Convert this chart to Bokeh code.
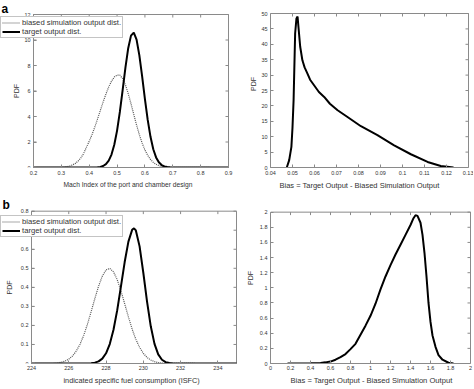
from bokeh.plotting import figure
from bokeh.layouts import column, row
from bokeh.models import FixedTicker, Range1d, Legend, LegendItem, Title
from bokeh.core.properties import value
from bokeh.embed import file_html
from bokeh.resources import INLINE

FONT = "Liberation Sans"
TXT = "#333333"
AX = "#8a8a8a"

# ---------------- data ----------------
# panel a (left): Mach index distributions
a_x = [0.20, 0.30, 0.31, 0.32, 0.33, 0.34, 0.35, 0.36, 0.37, 0.38, 0.39,
       0.40, 0.41, 0.42, 0.43, 0.44, 0.45, 0.46, 0.47, 0.48, 0.49,
       0.50, 0.51, 0.52, 0.53, 0.54, 0.55, 0.56, 0.57, 0.58, 0.59,
       0.60, 0.61, 0.62, 0.63, 0.64, 0.65, 0.66, 0.67, 0.68, 0.69, 0.70, 0.90]
a_biased = [0, 0.02, 0.04, 0.07, 0.12, 0.20, 0.32, 0.50, 0.75, 1.10, 1.59,
            2.05, 2.58, 3.17, 3.81, 4.48, 5.14, 5.76, 6.32, 6.77, 7.09,
            7.25, 7.24, 6.97, 6.48, 5.80, 5.00, 4.16, 3.33, 2.57, 1.91,
            1.37, 0.95, 0.63, 0.40, 0.25, 0.15, 0.086, 0.047, 0.025, 0.013, 0.006, 0]
a_target = [0, 0, 0, 0, 0, 0, 0, 0, 0, 0, 0,
            0, 0, 0.005, 0.017, 0.049, 0.118, 0.261, 0.534, 1.014, 1.781,
            2.895, 4.358, 6.073, 7.833, 9.355, 10.341, 10.584, 10.027, 8.795, 7.140,
            5.367, 3.734, 2.405, 1.435, 0.792, 0.405, 0.191, 0.084, 0.034, 0.013, 0.004, 0]

# panel a (right): bias distribution
ab_x = [0.0474, 0.0485, 0.0495, 0.0500, 0.0505, 0.0512, 0.0518, 0.0523, 0.0527,
        0.0535, 0.0545, 0.0555, 0.0568, 0.0580, 0.0598, 0.0620, 0.0644, 0.0670,
        0.0705, 0.0750, 0.0811, 0.0886, 0.0962, 0.1038, 0.1114, 0.1174, 0.1232]
ab_y = [0, 2.4, 6.7, 13.0, 21.9, 43.5, 48.4, 49.0, 45.7,
        39.2, 34.8, 32.5, 30.5, 28.5, 26.7, 24.5, 22.9, 20.7,
        18.6, 16.4, 13.4, 10.5, 7.2, 4.3, 1.8, 0.5, 0]

# panel b (left): ISFC distributions
b_x = [224, 225.0, 225.2, 225.4, 225.6, 225.8, 226.0, 226.2, 226.4, 226.6, 226.8,
       227.0, 227.2, 227.4, 227.6, 227.8, 228.0, 228.2, 228.4, 228.6, 228.8,
       229.0, 229.2, 229.4, 229.5, 229.6, 229.8, 230.0, 230.2, 230.4, 230.6, 230.8,
       231.0, 231.2, 231.4, 231.6, 235]
b_biased = [0, 0.0007, 0.0015, 0.0033, 0.0066, 0.0126, 0.0229, 0.0395, 0.0646, 0.1002, 0.1474,
            0.2056, 0.2720, 0.3414, 0.4065, 0.4590, 0.4916, 0.4995, 0.4813, 0.4400, 0.3814,
            0.3137, 0.2447, 0.1811, 0.1527, 0.1271, 0.0846, 0.0534, 0.0320, 0.0182, 0.0098, 0.0050,
            0.0024, 0.0011, 0.0005, 0.0002, 0]
b_target = [0, 0, 0, 0, 0, 0, 0, 0, 0, 0, 0,
            0.0005, 0.0016, 0.0045, 0.0113, 0.0258, 0.0537, 0.1020, 0.1771, 0.2802, 0.4046,
            0.5329, 0.6403, 0.7019, 0.7100, 0.6988, 0.6151, 0.4766, 0.3250, 0.1952, 0.1032, 0.0480,
            0.0196, 0.0071, 0.0022, 0.0006, 0]

# panel b (right): bias distribution
bb_x = [0.17, 0.3, 0.4, 0.5, 0.55, 0.6, 0.65, 0.7, 0.75, 0.8, 0.85, 0.9, 0.95, 1.0,
        1.05, 1.1, 1.15, 1.2, 1.25, 1.3, 1.35, 1.4, 1.43, 1.45, 1.47, 1.5, 1.52,
        1.54, 1.56, 1.58, 1.6, 1.62, 1.65, 1.68, 1.72, 1.78, 1.83]
bb_y = [0, 0.001, 0.003, 0.008, 0.015, 0.025, 0.05, 0.085, 0.125, 0.19, 0.26, 0.38, 0.50, 0.63,
        0.79, 0.98, 1.15, 1.30, 1.44, 1.57, 1.70, 1.83, 1.92, 1.96, 1.95, 1.86, 1.70,
        1.46, 1.15, 0.80, 0.55, 0.37, 0.22, 0.11, 0.05, 0.01, 0]

# ticks
a_xticks = [0.2, 0.3, 0.4, 0.5, 0.6, 0.7, 0.8, 0.9]
a_xlabels = ["0.2", "0.3", "0.4", "0.5", "0.6", "0.7", "0.8", "0.9"]
a_yticks = [0, 2, 4, 6, 8, 10, 12]
a_ylabels = ["0", "2", "4", "6", "8", "10", "12"]
ab_xticks = [0.04, 0.05, 0.06, 0.07, 0.08, 0.09, 0.1, 0.11, 0.12, 0.13]
ab_xlabels = ["0.04", "0.05", "0.06", "0.07", "0.08", "0.09", "0.1", "0.11", "0.12", "0.13"]
ab_yticks = [0, 5, 10, 15, 20, 25, 30, 35, 40, 45, 50]
ab_ylabels = ["0", "5", "10", "15", "20", "25", "30", "35", "40", "45", "50"]
b_xticks = [224, 226, 228, 230, 232, 234]
b_xlabels = ["224", "226", "228", "230", "232", "234"]
b_yticks = [0, 0.1, 0.2, 0.3, 0.4, 0.5, 0.6, 0.7, 0.8]
b_ylabels = ["0", "0.1", "0.2", "0.3", "0.4", "0.5", "0.6", "0.7", "0.8"]
bb_xticks = [0, 0.2, 0.4, 0.6, 0.8, 1.0, 1.2, 1.4, 1.6, 1.8, 2.0]
bb_xlabels = ["0", "0.2", "0.4", "0.6", "0.8", "1", "1.2", "1.4", "1.6", "1.8", "2"]
bb_yticks = [0, 0.2, 0.4, 0.6, 0.8, 1.0, 1.2, 1.4, 1.6, 1.8, 2.0]
bb_ylabels = ["0", "0.2", "0.4", "0.6", "0.8", "1", "1.2", "1.4", "1.6", "1.8", "2"]

LEG_BIASED = "biased simulation output dist."
LEG_TARGET = "target output dist."
XLAB_A = "Mach Index of the port and chamber design"
XLAB_B = "indicated specific fuel consumption (ISFC)"
XLAB_BIAS = "Bias = Target Output - Biased Simulation Output"
YLAB = "PDF"


def style_axis(ax, ticks, labels, bounds, standoff=3, lab_standoff=3):
    ax.ticker = FixedTicker(ticks=ticks)
    ax.major_label_overrides = dict(zip(ticks, labels))
    ax.bounds = bounds
    ax.minor_tick_line_color = None
    ax.major_tick_in = 3
    ax.major_tick_out = 0
    ax.axis_line_color = AX
    ax.major_tick_line_color = AX
    ax.major_label_text_font = FONT
    ax.major_label_text_font_size = "5.5px"
    ax.major_label_text_color = TXT
    ax.major_label_standoff = standoff
    ax.axis_label_text_font = FONT
    ax.axis_label_text_font_style = "normal"
    ax.axis_label_text_color = TXT
    ax.axis_label_text_font_size = "7px"
    ax.axis_label_standoff = lab_standoff


def panel(w, h, bl, br, bb, box, xb, yb, xt, xl, yt, yl, xlabel, xlab_size,
          xlab_offset, xlab_stand, xstand, ylab_stand, fixed_left):
    # frame: from the figure's top edge; box = pixel edges of the axes box in the figure
    fl, fr, ft, fb = bl, w - br, 0, h - bb
    L, R, T, B = box
    xs = (xb[1] - xb[0]) / (R - L)
    ys = (yb[1] - yb[0]) / (B - T)
    xr = (xb[0] - (L - fl) * xs, xb[1] + (fr - R) * xs)
    yr = (yb[0] - (fb - B) * ys, yb[1] + (T - ft) * ys)
    p = figure(width=w, height=h, x_range=Range1d(*xr), y_range=Range1d(*yr),
               title=None, output_backend="svg", toolbar_location=None,
               min_border_left=bl, min_border_right=br,
               min_border_top=0, min_border_bottom=bb, frame_align=False)
    p.xgrid.visible = False
    p.ygrid.visible = False
    p.outline_line_color = None
    p.background_fill_color = "white"
    p.border_fill_color = "white"
    style_axis(p.xaxis[0], xt, xl, xb, standoff=xstand)
    style_axis(p.yaxis[0], yt, yl, yb, standoff=3, lab_standoff=ylab_stand)
    if fixed_left:
        p.yaxis[0].fixed_location = xb[0]
    p.yaxis[0].axis_label = YLAB
    p.add_layout(Title(text=xlabel, align="left", offset=xlab_offset, standoff=xlab_stand,
                       vertical_align="middle", text_font=FONT, text_font_size=xlab_size,
                       text_font_style="normal", text_color=TXT), "below")
    # box lines (top, right, and left when the axis floats) with inward ticks
    bx0 = [xb[0], xb[1]]
    by0 = [yb[1], yb[0]]
    bx1 = [xb[1], xb[1]]
    by1 = [yb[1], yb[1]]
    if fixed_left:
        bx0.append(xb[0]); by0.append(yb[0]); bx1.append(xb[0]); by1.append(yb[1])
    p.segment(x0=bx0, y0=by0, x1=bx1, y1=by1, line_color=AX, line_width=1)
    p.segment(x0=[xb[1]] * len(yt), y0=yt, x1=[xb[1] - 3 * xs] * len(yt), y1=yt,
              line_color=AX, line_width=1)
    p.segment(x0=xt, y0=[yb[1]] * len(xt), x1=xt, y1=[yb[1] - 3 * ys] * len(xt),
              line_color=AX, line_width=1)
    if fixed_left:
        p.segment(x0=[xb[0]] * len(yt), y0=yt, x1=[xb[0] + 3 * xs] * len(yt), y1=yt,
                  line_color=AX, line_width=1)
    return p, (xr, yr, xs, ys)


def add_tag(p, geom, text, pos):
    xr, yr, xs, ys = geom
    p.text(x=[xr[0] + pos[0] * xs], y=[yr[1] - pos[1] * ys], text=[text],
           text_font=value(FONT), text_font_size="12px", text_font_style="bold",
           text_color="black", text_baseline="alphabetic", text_align="left")


def add_legend(p, rb, rt, loc):
    leg = Legend(items=[LegendItem(label=LEG_BIASED, renderers=[rb]),
                        LegendItem(label=LEG_TARGET, renderers=[rt])],
                 location=loc, label_text_font=FONT, label_text_font_size="7.7px",
                 label_text_color=TXT, glyph_width=18, glyph_height=7, label_height=7,
                 label_standoff=2, padding=1, spacing=0, margin=0,
                 border_line_color="#8a8a8a", background_fill_color="white",
                 background_fill_alpha=1.0)
    p.add_layout(leg)


# ---- panel a left
pa, ga = panel(240, 192, 0, 2, 25, (33, 228, 14, 167), (0.2, 0.9), (0, 12),
               a_xticks, a_xlabels, a_yticks, a_ylabels, XLAB_A, "6.7px", 63, 4, 3, 1, True)
ra_b = pa.line(a_x, a_biased, line_color="#555555", line_width=1.2, line_dash="1 1")
ra_t = pa.line(a_x, a_target, line_color="black", line_width=2)
add_legend(pa, ra_b, ra_t, (0, 129))
add_tag(pa, ga, "a", (1, 8.5))

# ---- panel a right
pab, _ = panel(233, 192, 30, 1, 25, (30, 228, 13, 167), (0.04, 0.13), (0, 50),
               ab_xticks, ab_xlabels, ab_yticks, ab_ylabels, XLAB_BIAS, "7.5px", 9, 4, 3, 1,
               False)
pab.line(ab_x, ab_y, line_color="black", line_width=2)

# ---- panel b left
pb, gb = panel(240, 196, 0, 2, 22, (31, 236, 19, 174), (224, 235), (0, 0.8),
               b_xticks, b_xlabels, b_yticks, b_ylabels, XLAB_B, "7.3px", 63, 5, 2, 5, True)
rb_b = pb.line(b_x, b_biased, line_color="#555555", line_width=1.2, line_dash="1 1")
rb_t = pb.line(b_x, b_target, line_color="black", line_width=2)
add_legend(pb, rb_b, rb_t, (0, 126))
add_tag(pb, gb, "b", (2, 13))

# ---- panel b right
pbb, _ = panel(233, 196, 30, 1, 22, (30, 230, 20, 174), (0, 2), (0, 2),
               bb_xticks, bb_xlabels, bb_yticks, bb_ylabels, XLAB_BIAS, "7.6px", 20, 5, 2, 3,
               False)
pbb.line(bb_x, bb_y, line_color="black", line_width=2)

layout = column(row(pa, pab), row(pb, pbb))
open("out.html", "w").write(file_html(layout, INLINE))
